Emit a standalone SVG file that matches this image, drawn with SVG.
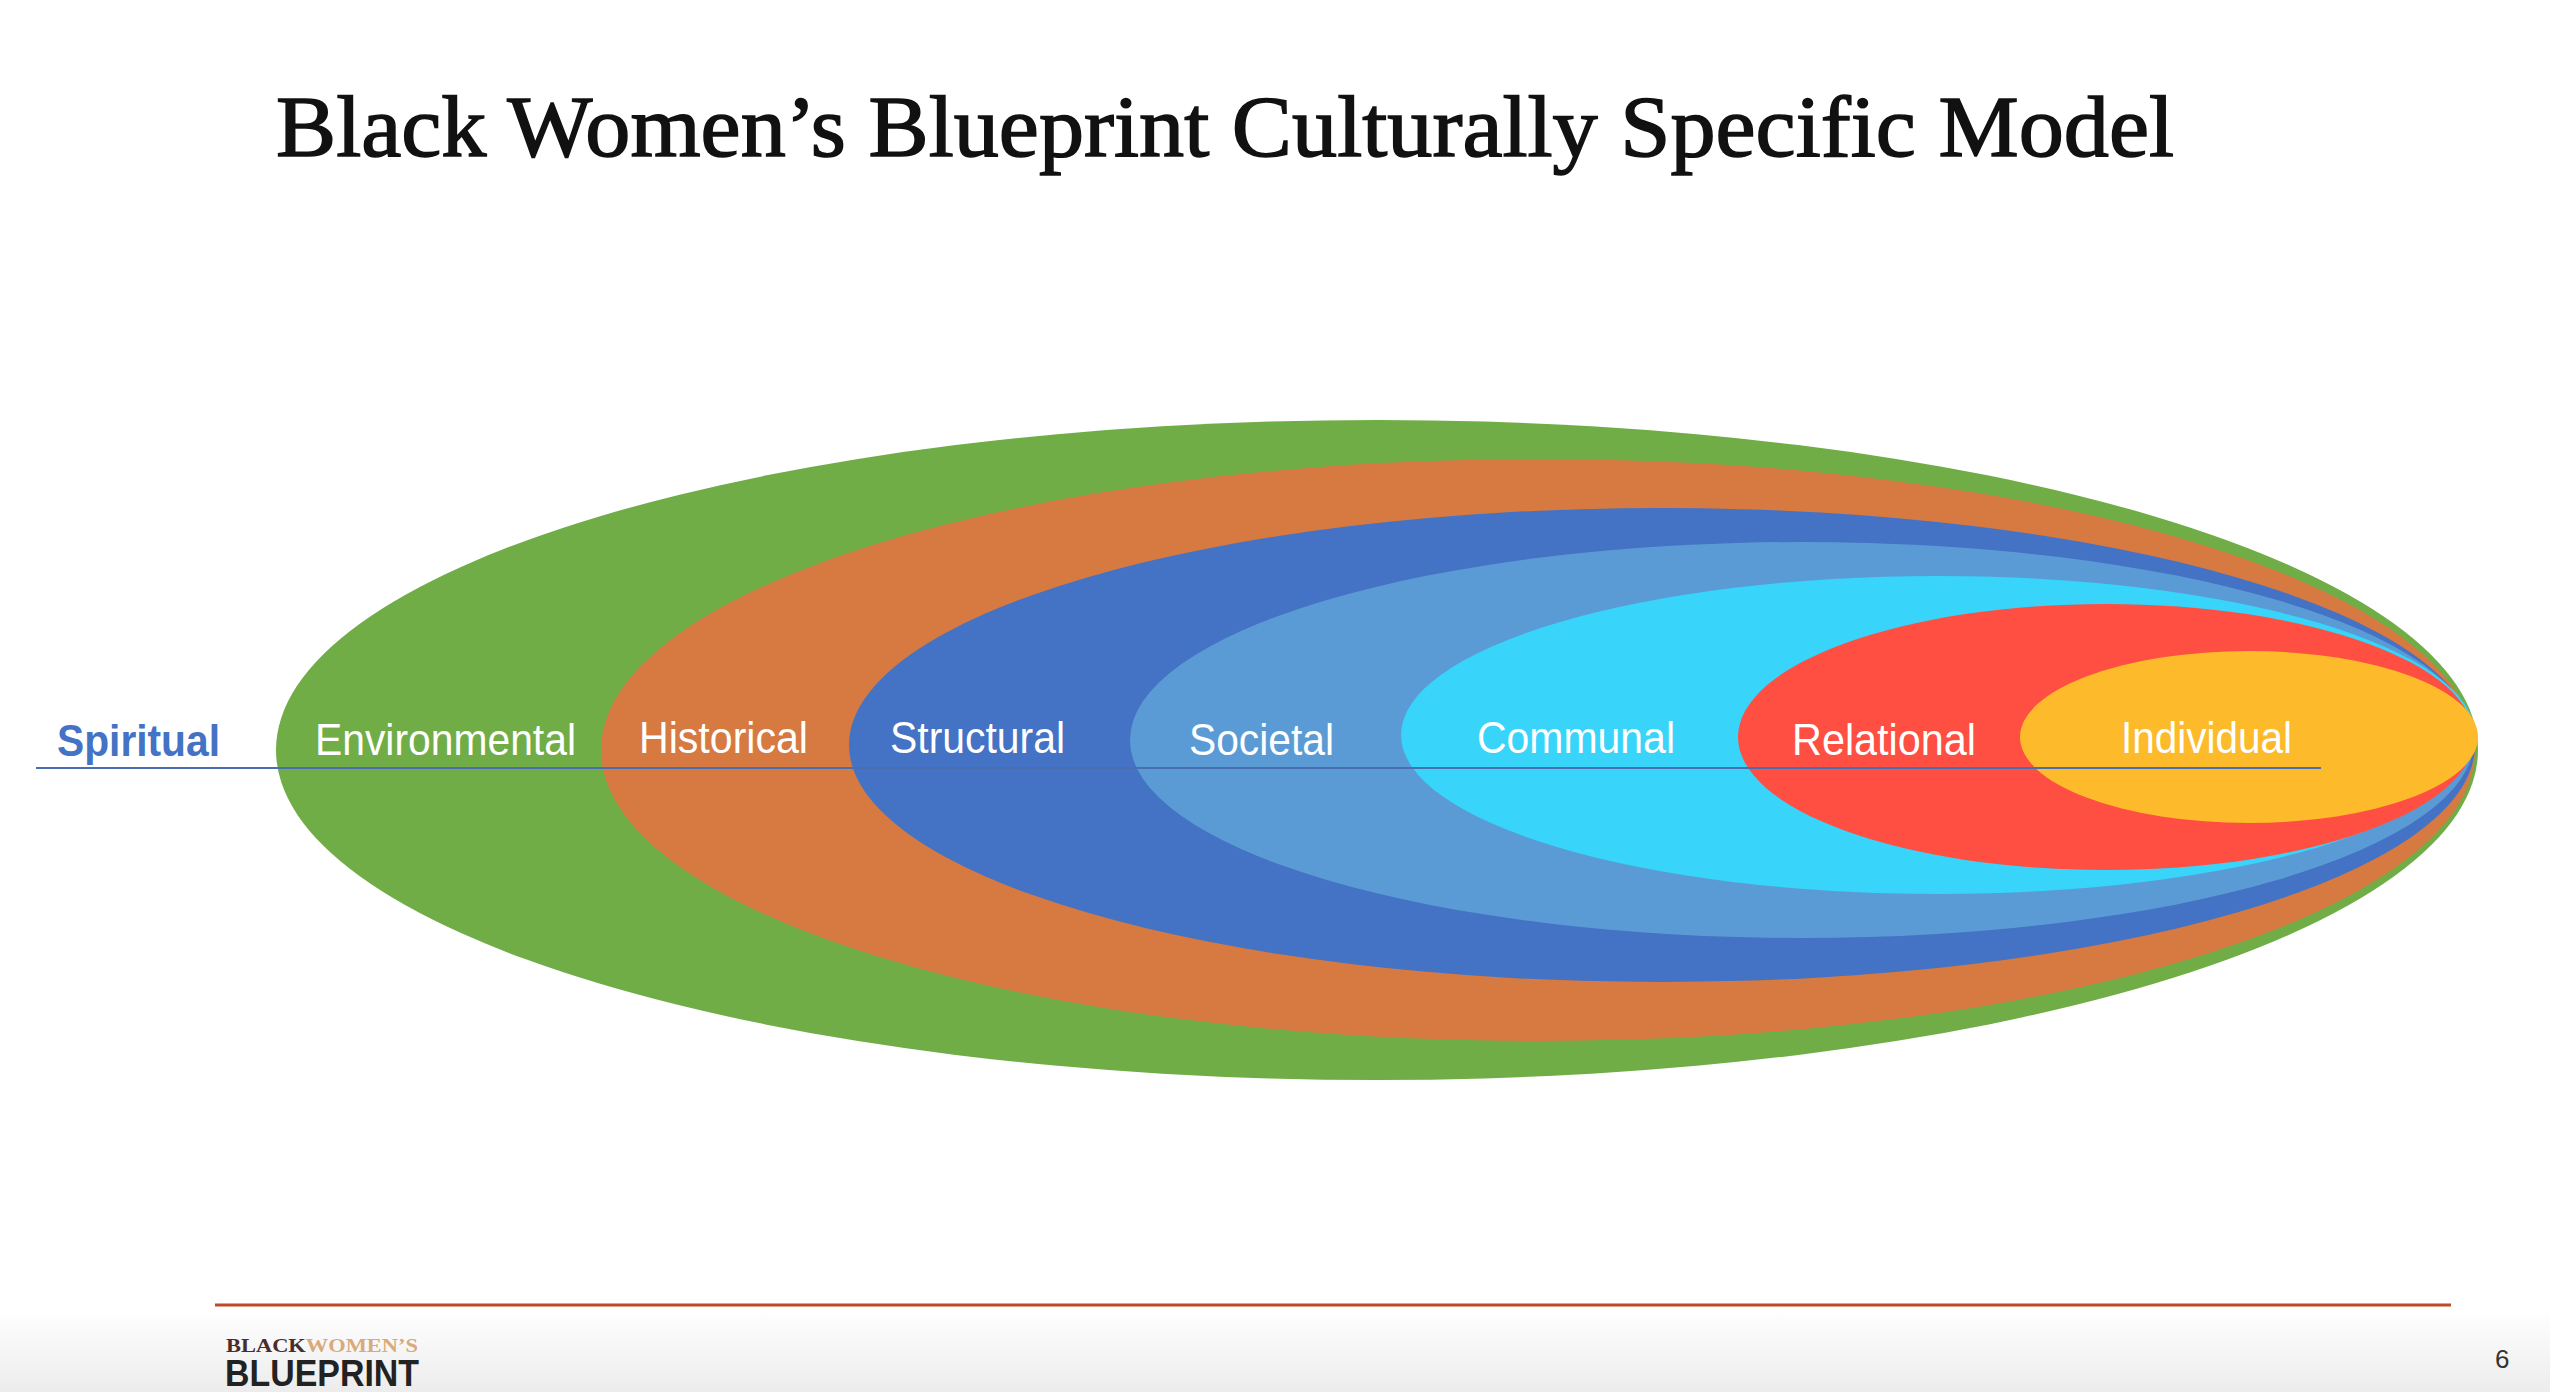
<svg xmlns="http://www.w3.org/2000/svg" width="2550" height="1392" viewBox="0 0 2550 1392">
<defs>
<linearGradient id="foot" x1="0" y1="0" x2="0" y2="1"><stop offset="0" stop-color="#ffffff"/><stop offset="1" stop-color="#ececec"/></linearGradient>
<style>
.lbl{font-family:"Liberation Sans",Arial,sans-serif;font-size:44px;fill:#ffffff}
</style>
</defs>
<rect width="2550" height="1392" fill="#ffffff"/>
<rect x="0" y="1310" width="2550" height="82" fill="url(#foot)"/>
<text x="276" y="156" font-family="Liberation Serif,serif" font-size="86" fill="#111" stroke="#111" stroke-width="1.5" textLength="1898" lengthAdjust="spacingAndGlyphs">Black Women’s Blueprint Culturally Specific Model</text>
<g id="rings">
<ellipse id="environmental" cx="1377" cy="750" rx="1101" ry="330" fill="#70ad47"/>
<ellipse id="historical" cx="1538" cy="750" rx="937" ry="291" fill="#d67a42"/>
<ellipse id="structural" cx="1662" cy="745" rx="813" ry="237" fill="#4472c4"/>
<ellipse id="societal" cx="1802" cy="740" rx="672" ry="198" fill="#5b9bd5"/>
<ellipse id="communal" cx="1938" cy="735" rx="537" ry="159" fill="#38d4fa"/>
<ellipse id="relational" cx="2106" cy="737" rx="368" ry="133" fill="#fe4f42"/>
<ellipse id="individual" cx="2249" cy="737" rx="229" ry="86" fill="#fdbb2c"/>
</g>
<g id="connectors"><line x1="36" y1="768" x2="2321" y2="768" stroke="#4a6fb0" stroke-width="2"/></g>
<g id="labels">
<text x="57" y="756" font-family="Liberation Sans,Arial,sans-serif" font-size="44" font-weight="bold" fill="#4472c4" textLength="163" lengthAdjust="spacingAndGlyphs">Spiritual</text>
<text class="lbl" x="315" y="755" textLength="261" lengthAdjust="spacingAndGlyphs">Environmental</text>
<text class="lbl" x="639" y="753" textLength="169" lengthAdjust="spacingAndGlyphs">Historical</text>
<text class="lbl" x="890" y="753" textLength="175" lengthAdjust="spacingAndGlyphs">Structural</text>
<text class="lbl" x="1189" y="755" textLength="145" lengthAdjust="spacingAndGlyphs">Societal</text>
<text class="lbl" x="1477" y="753" textLength="198" lengthAdjust="spacingAndGlyphs">Communal</text>
<text class="lbl" x="1792" y="755" textLength="184" lengthAdjust="spacingAndGlyphs">Relational</text>
<text class="lbl" x="2121" y="753" textLength="171" lengthAdjust="spacingAndGlyphs">Individual</text>
</g>
<line x1="215" y1="1305" x2="2451" y2="1305" stroke="#c0492a" stroke-width="3"/>
<g id="logo">
<text x="226" y="1352" font-family="Liberation Serif,serif" font-weight="bold" font-size="19" textLength="192" lengthAdjust="spacingAndGlyphs"><tspan fill="#4a2c2a">BLACK</tspan><tspan fill="#d9aa7c">WOMEN’S</tspan></text>
<text x="225" y="1386" font-family="Liberation Sans,Arial,sans-serif" font-weight="bold" font-size="36" fill="#222" textLength="194" lengthAdjust="spacingAndGlyphs">BLUEPRINT</text>
</g>
<text x="2495" y="1368" font-family="Liberation Sans,Arial,sans-serif" font-size="26" fill="#333">6</text>
</svg>
